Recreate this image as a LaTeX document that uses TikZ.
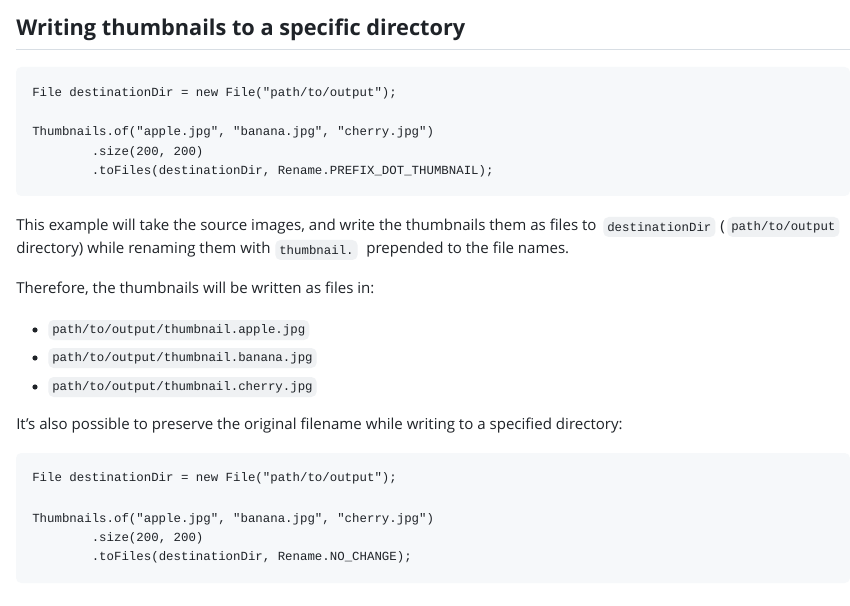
\documentclass[tikz,border=0pt]{standalone}
\usepackage{fontspec}
\setmainfont{Open Sans}
\setmonofont{Liberation Mono}
\definecolor{fg}{HTML}{1F2328}
\definecolor{codebg}{HTML}{F6F8FA}
\definecolor{inl}{HTML}{EFF1F3}
\definecolor{rule}{HTML}{D8DEE4}
\begin{document}
\begin{tikzpicture}[x=0.75pt,y=-0.75pt,
  txt/.style={anchor=west,inner sep=0pt,text=fg,font=\fontsize{11.3pt}{14pt}\selectfont},
  code/.style={anchor=west,inner sep=0pt,text=fg,font=\ttfamily\fontsize{9.3pt}{11pt}\selectfont},
  icode/.style={anchor=west,inner xsep=3pt,inner ysep=0pt,minimum height=15pt,fill=inl,rounded corners=4pt,text=fg,font=\ttfamily\fontsize{9.3pt}{11pt}\selectfont},
  block/.style={fill=codebg,draw=none,rounded corners=4pt}]
\useasboundingbox (0,0) rectangle (850,606);
\fill[white] (0,0) rectangle (850,606);
\node[anchor=west,inner sep=0pt,text=fg,font=\fontsize{16.3pt}{20pt}\selectfont\bfseries] (h) at (16,30) {Writing thumbnails to a specific directory};
\draw[rule,line width=0.75pt] (16,50) -- (850,50);
\fill[block] (16,67) rectangle (850,196);
\node[code] (c1) at (32,93) {File destinationDir = new File("path/to/output");};
\node[code] (c2) at (32,132) {Thumbnails.of("apple.jpg", "banana.jpg", "cherry.jpg")};
\node[code] (c3) at (32,152) {\phantom{Thumbnai}.size(200, 200)};
\node[code] (c4) at (32,171) {\phantom{Thumbnai}.toFiles(destinationDir, Rename.PREFIX\_DOT\_THUMBNAIL);};
\node[txt] (p1) at (16,227) {This example will take the source images, and write the thumbnails them as files to};
\node[icode] (i1) at (603,227) {destinationDir};
\node[txt] (p1b) at (720,227) {(};
\node[icode] (i2) at (727,227) {path/to/output};
\node[txt] (p2) at (16,250) {directory) while renaming them with};
\node[icode] (i3) at (275,250) {thumbnail.};
\node[txt] (p2b) at (366,250) {prepended to the file names.};
\node[txt] (p3) at (16,289) {Therefore, the thumbnails will be written as files in:};
\foreach \y/\n/\t in {330/b1/apple,358/b2/banana,387/b3/cherry}{
  \fill[fg] (35,\y) circle (2.6);
  \node[icode] (\n) at (48,\y) {path/to/output/thumbnail.\t.jpg};
}
\node[txt] (p4) at (16,426) {It's also possible to preserve the original filename while writing to a specified directory:};
\fill[block] (16,453) rectangle (850,583);
\node[code] (d1) at (32,478) {File destinationDir = new File("path/to/output");};
\node[code] (d2) at (32,519) {Thumbnails.of("apple.jpg", "banana.jpg", "cherry.jpg")};
\node[code] (d3) at (32,538) {\phantom{Thumbnai}.size(200, 200)};
\node[code] (d4) at (32,557) {\phantom{Thumbnai}.toFiles(destinationDir, Rename.NO\_CHANGE);};
\end{tikzpicture}
\end{document}
